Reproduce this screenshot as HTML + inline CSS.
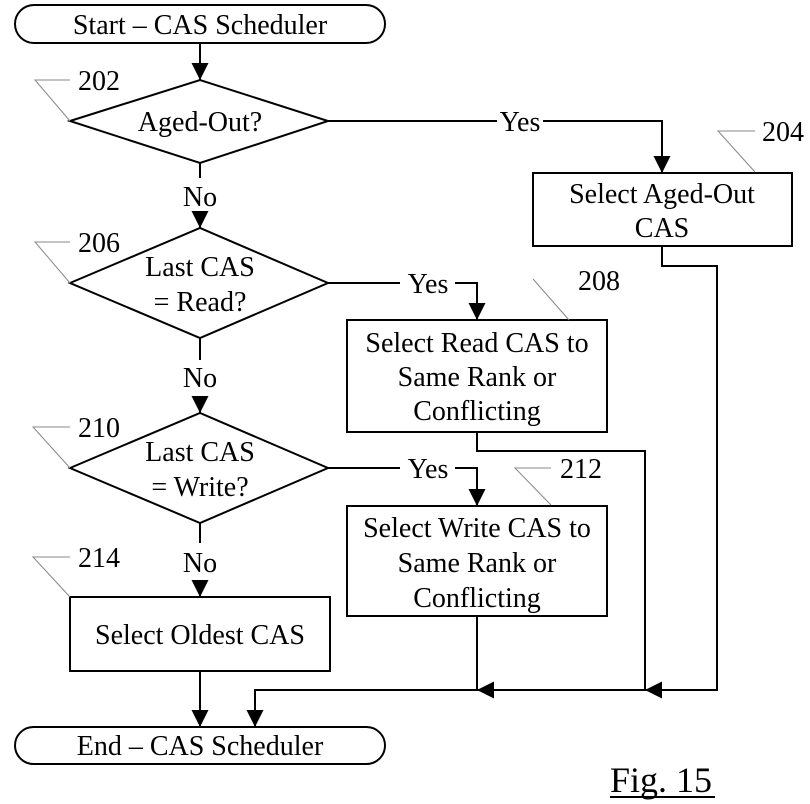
<!DOCTYPE html>
<html><head><style>
html,body{margin:0;padding:0;background:#fff;}
svg{display:block;}
text{font-family:"Liberation Serif",serif;font-size:28px;fill:#000;}
</style></head><body>
<svg width="810" height="804" viewBox="0 0 810 804" xmlns="http://www.w3.org/2000/svg">
<defs>
<marker id="a" viewBox="0 0 10 10" refX="10" refY="5" markerWidth="17" markerHeight="17" markerUnits="userSpaceOnUse" orient="auto"><path d="M0,0L10,5L0,10z" fill="#000"/></marker>
</defs>
<g fill="none" stroke="#000" stroke-width="2">
<rect x="15" y="5" width="370" height="38" rx="19"/>
<rect x="15" y="727" width="370" height="37" rx="18.5"/>
<polygon points="70,121 200,80 328,121 200,163"/>
<polygon points="70,283 200,228 328,283 200,338"/>
<polygon points="70,468 200,413 328,468 200,523"/>
<rect x="533" y="173" width="259" height="73"/>
<rect x="347" y="320" width="260" height="112"/>
<rect x="347" y="506" width="260" height="110"/>
<rect x="70" y="597" width="260" height="74"/>
<line x1="200" y1="43" x2="200" y2="80" marker-end="url(#a)"/>
<line x1="200" y1="163" x2="200" y2="178"/>
<line x1="200" y1="212" x2="200" y2="228" marker-end="url(#a)"/>
<line x1="200" y1="338" x2="200" y2="360"/>
<line x1="200" y1="396" x2="200" y2="413" marker-end="url(#a)"/>
<line x1="200" y1="523" x2="200" y2="543"/>
<line x1="200" y1="580" x2="200" y2="597" marker-end="url(#a)"/>
<line x1="200" y1="671" x2="200" y2="727" marker-end="url(#a)"/>
<polyline points="328,121 497,121"/>
<polyline points="543,121 662,121 662,173" marker-end="url(#a)"/>
<polyline points="328,283 400,283"/>
<polyline points="455,283 477,283 477,320" marker-end="url(#a)"/>
<polyline points="328,468 400,468"/>
<polyline points="455,468 477,468 477,506" marker-end="url(#a)"/>
<polyline points="662,246 662,266 717,266 717,690 645,690" marker-end="url(#a)"/>
<polyline points="477,432 477,451 645,451 645,690"/>
<polyline points="645,690 477,690" marker-end="url(#a)"/>
<line x1="477" y1="616" x2="477" y2="690"/>
<polyline points="477,690 255,690 255,727" marker-end="url(#a)"/>
</g>
<g fill="none" stroke="#888" stroke-width="1">
<polyline points="70,121 35,80 70,80"/>
<polyline points="70,283 35,242 70,242"/>
<polyline points="70,468 33,427 70,427"/>
<polyline points="70,597 33,557 70,557"/>
<polyline points="755,172 718,131 755,131"/>
<polyline points="569,320 533,279"/>
<polyline points="551,505 515,468 551,468"/>
</g>
<g text-anchor="middle">
<text x="200" y="34">Start – CAS Scheduler</text>
<text x="200" y="755">End – CAS Scheduler</text>
<text x="200" y="131">Aged-Out?</text>
<text x="200" y="276">Last CAS</text>
<text x="200" y="311">= Read?</text>
<text x="200" y="461">Last CAS</text>
<text x="200" y="496">= Write?</text>
<text x="200" y="206">No</text>
<text x="200" y="387">No</text>
<text x="200" y="572">No</text>
<text x="520" y="131">Yes</text>
<text x="428" y="293">Yes</text>
<text x="428" y="478">Yes</text>
<text x="662" y="203">Select Aged-Out</text>
<text x="662" y="237">CAS</text>
<text x="477" y="352">Select Read CAS to</text>
<text x="477" y="386">Same Rank or</text>
<text x="477" y="420">Conflicting</text>
<text x="477" y="537">Select Write CAS to</text>
<text x="477" y="572">Same Rank or</text>
<text x="477" y="607">Conflicting</text>
<text x="200" y="644">Select Oldest CAS</text>
</g>
<text x="78" y="90">202</text>
<text x="78" y="252">206</text>
<text x="78" y="437">210</text>
<text x="78" y="567">214</text>
<text x="762" y="141">204</text>
<text x="578" y="290">208</text>
<text x="560" y="478">212</text>
<text x="610" y="792" style="font-size:36px">Fig. 15</text>
<line x1="610" y1="797" x2="715" y2="797" stroke="#000" stroke-width="2"/>
</svg>
</body></html>
